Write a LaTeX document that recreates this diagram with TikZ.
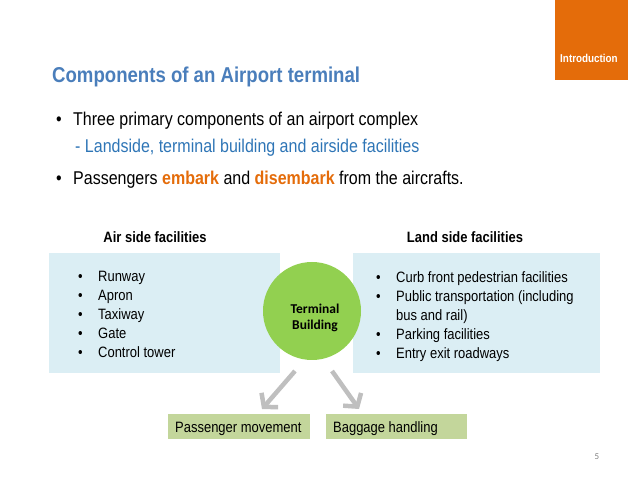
\documentclass[tikz,border=0pt]{standalone}
\usepackage{fontspec}
\setmainfont{Liberation Sans}
\newfontfamily\narfont[FakeStretch=0.865]{Liberation Sans}
\newfontfamily\tbfont{Carlito}
\usetikzlibrary{arrows.meta}
\definecolor{titleblue}{HTML}{4A7EBB}
\definecolor{subblue}{HTML}{2E75B6}
\definecolor{orangeT}{HTML}{E46C0A}
\definecolor{boxblue}{HTML}{DBEEF4}
\definecolor{circgreen}{HTML}{92D050}
\definecolor{boxgreen}{HTML}{C3D69B}
\definecolor{arrowgray}{HTML}{BFBFBF}
\tikzset{
  txt/.style={inner sep=0pt, anchor=base west, font=\narfont\fontsize{15}{18}\selectfont},
  bigtxt/.style={inner sep=0pt, anchor=base west, font=\narfont\fontsize{18.5}{22}\selectfont},
  head/.style={inner sep=0pt, anchor=base, font=\narfont\bfseries\fontsize{15}{18}\selectfont},
  bigarrow/.style={draw=arrowgray, line width=4.5pt, -{Straight Barb[length=9pt,width=22pt]}},
  gbox/.style={fill=boxgreen, draw=none},
}
\begin{document}
\begin{tikzpicture}[x=1pt,y=-1pt]
\useasboundingbox (0,0) rectangle (638,478);
% orange tab
\fill[orangeT] (555,0) rectangle (628,80);
\node[inner sep=0pt, anchor=base, text=white, font=\narfont\bfseries\fontsize{11.4}{13}\selectfont] (intro) at (589,63) {Introduction};
% title
\node[inner sep=0pt, anchor=base west, text=titleblue, font=\narfont\bfseries\fontsize{21.5}{25}\selectfont] (title) at (52,83) {Components of an Airport terminal};
% bullets
\node[bigtxt] (b1) at (56,126) {•};
\node[bigtxt] (t1) at (73,126) {Three primary components of an airport complex};
\node[bigtxt, text=subblue] (t2) at (75,153) {- Landside, terminal building and airside facilities};
\node[bigtxt] (b3) at (56,185) {•};
\node[bigtxt] (t3) at (73,185) {Passengers \textcolor{orangeT}{\bfseries embark} and \textcolor{orangeT}{\bfseries disembark} from the aircrafts.};
% headings
\node[head] (hair) at (155,243) {Air side facilities};
\node[head] (hland) at (465,243) {Land side facilities};
% boxes
\fill[boxblue] (49,253) rectangle (280,373);
\fill[boxblue] (353,253) rectangle (600,373);
% left items
\foreach \y/\t [count=\i] in {282/Runway,301/Apron,320/Taxiway,339/Gate,358/Control tower}{
  \node[txt] (lb\i) at (78,\y) {•};
  \node[txt] (l\i) at (98,\y) {\t};
}
% right items
\node[txt] (rb1) at (376,283) {•};
\node[txt] (r1) at (396,283) {Curb front pedestrian facilities};
\node[txt] (rb2) at (376,302) {•};
\node[txt] (r2) at (396,302) {Public transportation (including};
\node[txt] (r2b) at (396,321) {bus and rail)};
\node[txt] (rb3) at (376,340) {•};
\node[txt] (r3) at (396,340) {Parking facilities};
\node[txt] (rb4) at (376,359) {•};
\node[txt] (r4) at (396,359) {Entry exit roadways};
% circle
\node[circle, fill=circgreen, minimum size=98pt, inner sep=0pt] (tb) at (312,311) {};
\node[inner sep=0pt, anchor=base, font=\tbfont\bfseries\fontsize{13.5}{16}\selectfont] (tb1) at (315,314) {Terminal};
\node[inner sep=0pt, anchor=base, font=\tbfont\bfseries\fontsize{13.5}{16}\selectfont] (tb2) at (315,330) {Building};
% green boxes
\node[gbox, minimum width=142pt, minimum height=25pt, inner sep=0pt] (pm) at (239,426.5) {};
\node[txt] (pmt) at (175,433) {Passenger movement};
\node[gbox, minimum width=141pt, minimum height=25pt, inner sep=0pt] (bh) at (396.5,426.5) {};
\node[txt] (bht) at (333,433) {Baggage handling};
% arrows
\coordinate (a1s) at (295,371);
\coordinate (a1e) at (262,409);
\coordinate (a2s) at (332,371);
\coordinate (a2e) at (359,409);
\draw[bigarrow] (a1s) -- (a1e);
\draw[bigarrow] (a2s) -- (a2e);
% page number
\node[inner sep=0pt, anchor=base, text=gray, font=\tbfont\fontsize{9}{11}\selectfont] (pg) at (597,460) {5};
\end{tikzpicture}
\end{document}
